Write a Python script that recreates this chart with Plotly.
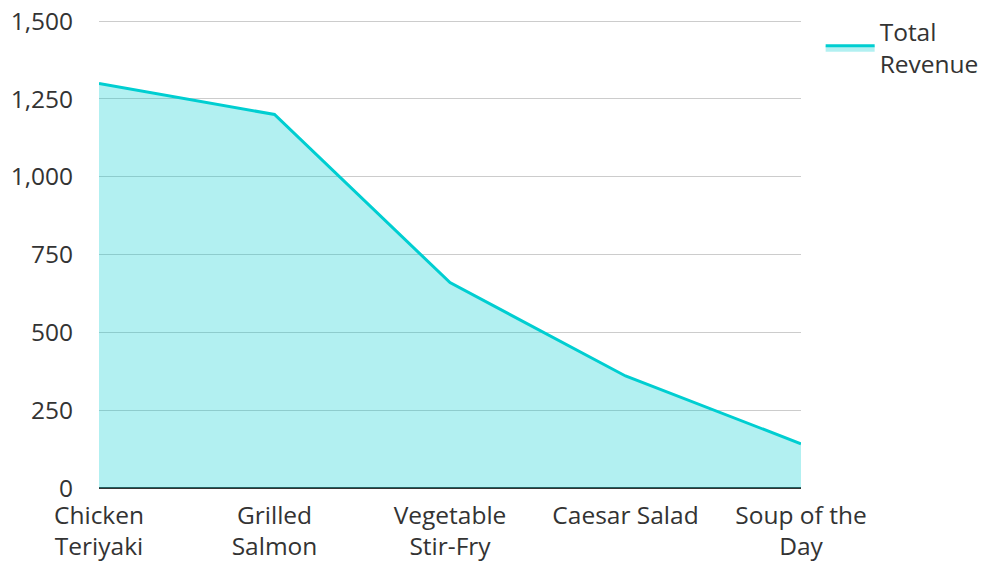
import plotly.graph_objects as go

categories = ["Chicken Teriyaki", "Grilled Salmon", "Vegetable Stir-Fry", "Caesar Salad", "Soup of the Day"]
tick_labels = ["Chicken<br>Teriyaki", "Grilled<br>Salmon", "Vegetable<br>Stir-Fry", "Caesar Salad", "Soup of the<br>Day"]
revenue = [1300, 1200, 660, 360, 142]
y_ticks = [0, 250, 500, 750, 1000, 1250, 1500]
y_tick_labels = ["0", "250", "500", "750", "1,000", "1,250", "1,500"]

fig = go.Figure()
fig.add_trace(go.Scatter(
    x=categories, y=revenue, mode="lines", name="Total<br>Revenue",
    line=dict(color="#00CED1", width=3),
    fill="tozeroy", fillcolor="rgba(0,206,209,0.3)",
))

fig.update_layout(
    width=988, height=562,
    margin=dict(l=91, r=195, t=0, b=82),
    paper_bgcolor="white", plot_bgcolor="white",
    font=dict(family="Open Sans", size=24.5, color="#333333"),
    showlegend=True,
    legend=dict(x=1.028, y=0.997, xanchor="left", yanchor="top", itemwidth=49,
                font=dict(size=24.5, color="#333333"), bgcolor="rgba(0,0,0,0)"),
    xaxis=dict(type="category", range=[0, 4], tickmode="array",
               tickvals=categories, ticktext=tick_labels, automargin=False,
               showgrid=False, showline=False, zeroline=False, ticks="",
               ticklabelstandoff=10),
    yaxis=dict(range=[0, 1506], domain=[0, 0.9765], tickmode="array",
               tickvals=y_ticks, ticktext=y_tick_labels, ticklabeloverflow="allow",
               showgrid=True, gridcolor="#CCCCCC", gridwidth=1.3, automargin=False,
               zeroline=True, zerolinecolor="#333333", zerolinewidth=2,
               showline=False, ticks="", ticklabelstandoff=25),
)

fig.write_html("out.html")
